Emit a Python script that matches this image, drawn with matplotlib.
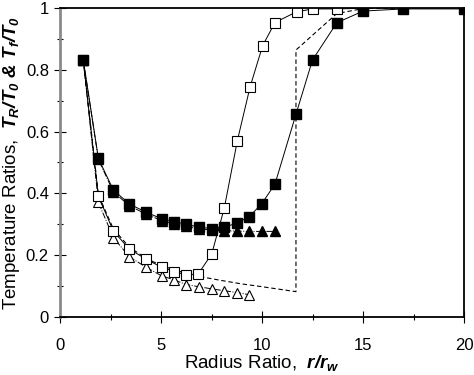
import matplotlib.pyplot as plt
import matplotlib.ticker as mticker

plt.rcParams['font.family'] = ['Liberation Sans', 'DejaVu Sans']
plt.rcParams['mathtext.fontset'] = 'custom'
plt.rcParams['mathtext.bfit'] = 'Liberation Sans:bold:italic'
plt.rcParams['mathtext.it'] = 'Liberation Sans:italic'
plt.rcParams['mathtext.rm'] = 'Liberation Sans'

# filled squares
r_fs = [1.15, 1.9, 2.64, 3.43, 4.26, 5.03, 5.66, 6.24, 6.88, 7.51, 8.13, 8.78, 9.37, 9.98, 10.64,
        11.68, 12.5, 13.7, 15.0, 17.0, 20.0]
t_fs = [0.832, 0.513, 0.411, 0.366, 0.339, 0.318, 0.309, 0.300, 0.291, 0.286, 0.291, 0.304, 0.325,
        0.366, 0.43, 0.656, 0.832, 0.952, 0.99, 0.997, 0.997]

# filled triangles
r_ft = [1.15, 1.9, 2.64, 3.43, 4.26, 5.03, 5.66, 6.24, 6.88, 7.51, 8.13, 8.78, 9.37, 9.98, 10.64]
t_ft = [0.832, 0.51, 0.405, 0.36, 0.333, 0.312, 0.302, 0.294, 0.286, 0.281, 0.279, 0.278, 0.277,
        0.277, 0.277]

# open squares
r_os = [1.15, 1.9, 2.64, 3.43, 4.26, 5.03, 5.66, 6.24, 6.85, 7.51, 8.13, 8.78, 9.41, 10.03, 10.64,
        11.72, 12.54, 13.7, 15.0]
t_os = [0.832, 0.391, 0.278, 0.22, 0.187, 0.161, 0.147, 0.136, 0.14, 0.204, 0.352, 0.571, 0.745,
        0.878, 0.953, 0.988, 0.997, 0.997, 0.999]

# open triangles
r_ot = [1.15, 1.9, 2.64, 3.43, 4.26, 5.03, 5.66, 6.24, 6.87, 7.51, 8.13, 8.78, 9.37]
t_ot = [0.832, 0.371, 0.257, 0.195, 0.161, 0.133, 0.12, 0.105, 0.098, 0.091, 0.085, 0.079, 0.072]

# dashed curve
r_d = [1.15, 1.9, 2.64, 3.43, 4.26, 5.03, 6.0, 7.0, 8.0, 9.0, 10.0, 11.68, 11.68, 13.7, 15.0, 17.0]
t_d = [0.832, 0.395, 0.285, 0.226, 0.19, 0.166, 0.146, 0.13, 0.118, 0.107, 0.098, 0.082, 0.864,
       0.982, 0.998, 1.0]

fig = plt.figure(figsize=(4.74, 3.75), dpi=100)
ax = fig.add_axes([0.1266, 0.1547, 0.979 - 0.1266, 0.9787 - 0.1547])

ax.plot(r_d, t_d, color='black', ls=(0, (4, 2.5)), lw=0.8)
ax.plot(r_ot, t_ot, color='black', ls='-.', lw=0.7, marker='^', ms=7, mfc='white', mec='black', mew=0.8)
ax.plot(r_os, t_os, color='black', ls='-', lw=0.7, marker='s', ms=7, mfc='white', mec='black', mew=0.8)
ax.plot(r_ft, t_ft, color='black', ls='-.', lw=0.7, marker='^', ms=7, mfc='black', mec='black')
ax.plot(r_fs, t_fs, color='black', ls='-', lw=0.7, marker='s', ms=7.5, mfc='black', mec='black')

ax.set_xlim(0, 20)
ax.set_ylim(0, 1)
ax.xaxis.set_major_locator(mticker.MultipleLocator(5))
ax.xaxis.set_minor_locator(mticker.MultipleLocator(2.5))
ax.yaxis.set_major_locator(mticker.MultipleLocator(0.2))
ax.yaxis.set_minor_locator(mticker.MultipleLocator(0.1))
ax.yaxis.set_major_formatter(mticker.FuncFormatter(lambda v, p: f"{v:g}"))
ax.tick_params(which='major', direction='inout', length=8, width=0.8, labelsize=12)
ax.tick_params(which='minor', direction='inout', length=5, width=0.8)
ax.tick_params(axis='y', pad=4)
ax.tick_params(axis='x', pad=11)

for side in ['top', 'right', 'bottom']:
    ax.spines[side].set_linewidth(1.3)
ax.spines['left'].set_color('#8a8a8a')
ax.spines['left'].set_linewidth(2)

ax.set_xlabel(r"Radius Ratio,  $\mathbfit{r/r_w}$", fontsize=13.5, labelpad=0)
ax.set_ylabel(r"Temperature Ratios,  $\mathbfit{T_R/T_0}$ $\mathbfit{&}$ $\mathbfit{T_f/T_0}$",
              fontsize=13.5, labelpad=3)

fig.savefig('out.png', dpi=100)
